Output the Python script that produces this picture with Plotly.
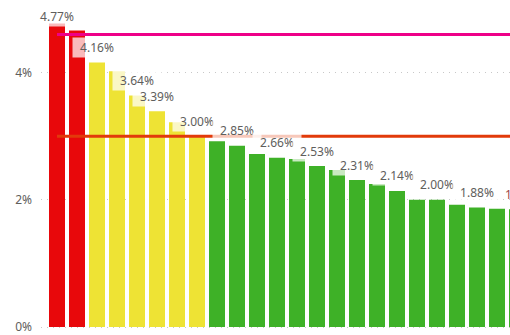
import plotly.graph_objects as go

# ---- data ----
categories = [f"C{i+1}" for i in range(24)]
values = [4.77, 4.66, 4.16, 4.02, 3.64, 3.39, 3.22, 3.00,
          2.92, 2.85, 2.72, 2.66, 2.64, 2.53, 2.47, 2.31,
          2.25, 2.14, 2.00, 2.00, 1.92, 1.88, 1.86, 1.85]
upper_line = 4.60
lower_line = 3.00
labelled = [0, 2, 4, 5, 7, 9, 11, 13, 15, 17, 19, 21]
y_ticks = [0, 2, 4]

RED, YELLOW, GREEN = "#E8080B", "#EEE334", "#3EB127"
PINK, ORANGE = "#EE0088", "#E23A0A"
TXT = "#605E5C"
FONT = "Segoe UI, Noto Sans, sans-serif"

colors = [RED if v >= upper_line else (YELLOW if v >= lower_line else GREEN) for v in values]
xs = list(range(len(values)))

W, H = 510, 335
ml, mb, mt = 41, 4, 0
px_per_unit = 64.0
y_lo = -2 / px_per_unit
ymax = y_lo + (H - mb - mt) / px_per_unit
x_lo, x_hi = -0.8, 22.65

fig = go.Figure()
fig.add_trace(go.Bar(x=xs, y=values, marker=dict(color=colors, line=dict(width=0)),
                     width=0.8, hoverinfo="skip"))
fig.add_trace(go.Scatter(x=xs, y=[upper_line] * len(xs), mode="lines",
                         line=dict(color=PINK, width=3), hoverinfo="skip"))
fig.add_trace(go.Scatter(x=xs, y=[lower_line] * len(xs), mode="lines",
                         line=dict(color=ORANGE, width=3), hoverinfo="skip"))

def label_y(v):
    return min(v + 15 / px_per_unit, ymax - 17 / px_per_unit)

for i in labelled:
    fig.add_annotation(x=xs[i], y=label_y(values[i]), text=f"{values[i]:.2f}%",
                       showarrow=False, xanchor="center", yanchor="middle",
                       width=48, height=19, borderpad=0,
                       bgcolor="rgba(255,255,255,0.72)",
                       font=dict(family=FONT, size=12, color=TXT))

# label of the next (cut-off) bar, partially visible at the right edge
last = len(values) - 1
fig.add_annotation(x=x_hi, y=label_y(values[last]), text=f"{values[last]:.2f}%",
                   showarrow=False, xanchor="left", yanchor="middle", xshift=-7,
                   font=dict(family=FONT, size=12, color="#A04848"))

fig.update_layout(
    width=W, height=H, margin=dict(l=ml, r=0, t=mt, b=mb),
    paper_bgcolor="white", plot_bgcolor="white", showlegend=False,
    bargap=0.2,
    xaxis=dict(range=[x_lo, x_hi], showticklabels=False, showgrid=False,
               zeroline=False, showline=False, ticks=""),
    yaxis=dict(range=[y_lo, ymax], tickvals=y_ticks, ticktext=[f"{t}%" for t in y_ticks],
               showgrid=True, gridcolor="#C8C8C8", griddash="1px,5px", gridwidth=1,
               zeroline=False, showline=False, ticks="", ticklabelstandoff=8,
               ticklabeloverflow="allow",
               tickfont=dict(family=FONT, size=12, color=TXT)),
)

fig.write_html("out.html")
